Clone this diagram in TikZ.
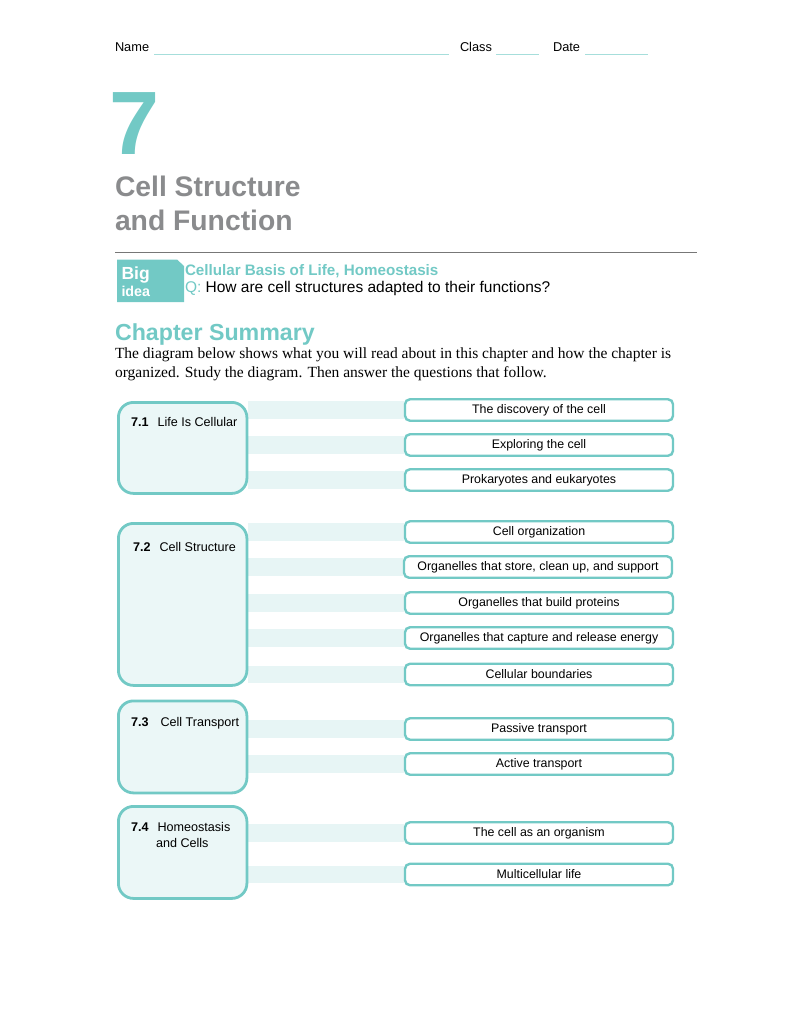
\documentclass[tikz,border=0pt]{standalone}
\usepackage{fontspec}
\setmainfont{Liberation Sans}
\newfontfamily\seriffont{Liberation Serif}
\usetikzlibrary{backgrounds}
\definecolor{tealc}{HTML}{72C9C5}
\definecolor{linec}{HTML}{A6DEDB}
\definecolor{barfill}{HTML}{E7F5F5}
\definecolor{boxfill}{HTML}{EBF7F7}
\definecolor{titlegray}{HTML}{8A8B8D}
\definecolor{rulegray}{HTML}{777777}
\tikzset{
  txt/.style={anchor=base west, inner sep=0pt, outer sep=0pt},
  secbox/.style={draw=tealc, line width=2.8pt, fill=boxfill, rounded corners=15pt,
     minimum width=128.5pt, anchor=north west, inner sep=0pt},
  topic/.style={draw=tealc, line width=2.4pt, fill=white, rounded corners=5pt,
     minimum width=268pt, minimum height=21.5pt, inner sep=0pt,
     font=\fontsize{12.4}{14}\selectfont},
  bar/.style={draw=barfill, line width=17.5pt},
  blank/.style={draw=linec, line width=0.9pt},
  lab/.style={txt, font=\fontsize{12.6}{14}\selectfont},
}
\begin{document}
\begin{tikzpicture}[x=1pt,y=-1pt]
\useasboundingbox (0,0) rectangle (791,1024);

% header
\node[txt, font=\fontsize{12.8}{14}\selectfont] (name) at (115,52) {Name};
\coordinate (n1) at (154,54.5); \coordinate (n2) at (449,54.5);
\draw[blank] (n1) -- (n2);
\node[txt, font=\fontsize{12.8}{14}\selectfont] (class) at (460,52) {Class};
\coordinate (c1) at (496,54.5); \coordinate (c2) at (539,54.5);
\draw[blank] (c1) -- (c2);
\node[txt, font=\fontsize{12.8}{14}\selectfont] (date) at (553,52) {Date};
\coordinate (d1) at (585,54.5); \coordinate (d2) at (648,54.5);
\draw[blank] (d1) -- (d2);

% chapter number and title
\node[txt, font=\fontsize{90}{90}\bfseries\selectfont, text=tealc] (num) at (109,155) {7};
\node[txt, font=\fontsize{28.3}{30}\bfseries\selectfont, text=titlegray] (t1) at (115,197) {Cell Structure};
\node[txt, font=\fontsize{28.3}{30}\bfseries\selectfont, text=titlegray] (t2) at (115,230) {and Function};
\coordinate (r1) at (115,252.5); \coordinate (r2) at (697,252.5);
\draw[rulegray, line width=1pt] (r1) -- (r2);

% big idea
\fill[tealc] (117,259.5) -- (177,259.5) -- (184,266) -- (184,302) -- (117,302) -- cycle;
\node[txt, font=\fontsize{17.5}{18}\bfseries\selectfont, text=white] (big) at (121.5,279) {Big};
\node[txt, font=\fontsize{14.3}{15}\bfseries\selectfont, text=white] (idea) at (121.5,296.7) {idea};
\node[txt, font=\fontsize{15.2}{16}\bfseries\selectfont, text=tealc] (bi1) at (185,275) {Cellular Basis of Life, Homeostasis};
\node[txt, font=\fontsize{15.5}{16}\selectfont] (bi2) at (185,292) {\textcolor{tealc}{Q:} How are cell structures adapted to their functions?};

% summary
\node[txt, font=\fontsize{23.2}{24}\bfseries\selectfont, text=tealc] (cs) at (115,340) {Chapter Summary};
\node[txt, font=\seriffont\fontsize{15.5}{18}\selectfont] (p1) at (115,358) {The diagram below shows what you will read about in this chapter and how the chapter is};
\node[txt, font=\seriffont\fontsize{15.5}{18}\selectfont] (p2) at (115,377) {organized. Study the diagram. Then answer the questions that follow.};

% section boxes
\node[secbox, minimum height=91pt] (s1) at (117,401) {};
\node[secbox, minimum height=162pt] (s2) at (117,522) {};
\node[secbox, minimum height=92pt] (s3) at (117,699.5) {};
\node[secbox, minimum height=92pt] (s4) at (117,805) {};

\node[lab] (l1) at (131,426) {\textbf{7.1}\hspace{9pt}Life Is Cellular};
\node[lab] (l2) at (133,551) {\textbf{7.2}\hspace{9pt}Cell Structure};
\node[lab] (l3) at (131,726) {\textbf{7.3}\hspace{12pt}Cell Transport};
\node[lab] (l4) at (131,831) {\textbf{7.4}\hspace{9pt}Homeostasis};
\node[lab] (l4b) at (156,847) {and Cells};

% topic boxes
\node[topic] (a1) at (539,410) {The discovery of the cell};
\node[topic] (a2) at (539,445) {Exploring the cell};
\node[topic] (a3) at (539,480) {Prokaryotes and eukaryotes};

\node[topic] (b1) at (539,532) {Cell organization};
\node[topic] (b2) at (538,567) {Organelles that store, clean up, and support};
\node[topic] (b3) at (539,603) {Organelles that build proteins};
\node[topic] (b4) at (539,638) {Organelles that capture and release energy};
\node[topic] (b5) at (539,674.5) {Cellular boundaries};

\node[topic] (c1n) at (539,729) {Passive transport};
\node[topic] (c2n) at (539,764) {Active transport};

\node[topic] (e1) at (539,833) {The cell as an organism};
\node[topic] (e2) at (539,874.5) {Multicellular life};

% connector bars
\begin{scope}[on background layer]
\draw[bar] (s1.east |- a1) -- (a1.west);
\draw[bar] (s1.east |- a2) -- (a2.west);
\draw[bar] (s1.east |- a3) -- (a3.west);
\draw[bar] (s2.east |- b1) -- (b1.west);
\draw[bar] (s2.east |- b2) -- (b2.west);
\draw[bar] (s2.east |- b3) -- (b3.west);
\draw[bar] (s2.east |- b4) -- (b4.west);
\draw[bar] (s2.east |- b5) -- (b5.west);
\draw[bar] (s3.east |- c1n) -- (c1n.west);
\draw[bar] (s3.east |- c2n) -- (c2n.west);
\draw[bar] (s4.east |- e1) -- (e1.west);
\draw[bar] (s4.east |- e2) -- (e2.west);
\end{scope}
\end{tikzpicture}
\end{document}
